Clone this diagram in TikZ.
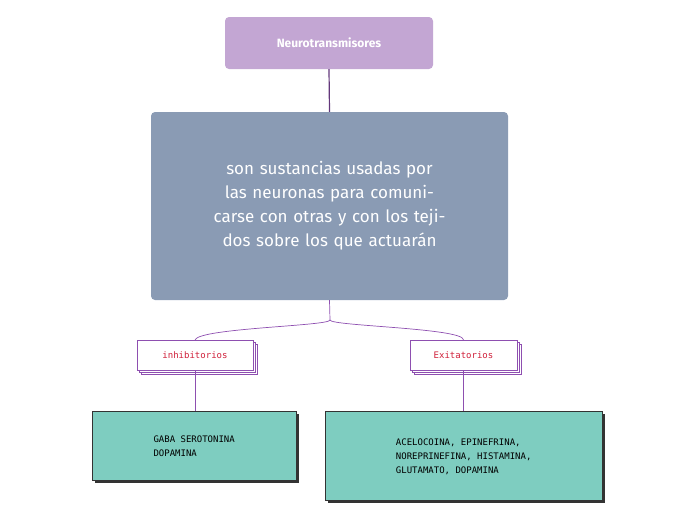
\documentclass[tikz,border=0pt]{standalone}
\usepackage{fontspec}
\usetikzlibrary{shadows}
\setmainfont{Fira Sans}
\newfontfamily\monof{DejaVu Sans Mono}
\definecolor{topc}{HTML}{C3A6D3}
\definecolor{midc}{HTML}{8A9BB4}
\definecolor{grn}{HTML}{7ECDC0}
\definecolor{lnc}{HTML}{8E4FB0}
\definecolor{redt}{HTML}{D0203A}
\begin{document}
\begin{tikzpicture}[x=1pt,y=-1pt,
 topbox/.style={fill=topc,rounded corners=4pt,text=white,font=\fontsize{12}{14}\selectfont\bfseries,minimum width=208pt,minimum height=52pt},
 midbox/.style={fill=midc,rounded corners=4pt,text=white,font=\fontsize{17}{24}\selectfont,minimum width=357pt,minimum height=188pt,align=center,text width=300pt},
 tagbox/.style={draw=lnc,fill=white,text=redt,font=\monof\fontsize{9}{11}\selectfont,minimum height=30pt,double copy shadow={shadow xshift=2pt,shadow yshift=-2pt,draw=lnc}},
 leaf/.style={draw=black!80,fill=grn,font=\monof\fontsize{9}{14}\selectfont,align=left,anchor=north west,inner sep=12pt,text depth=0pt},
 conn/.style={draw=lnc,line width=0.7pt}]
\useasboundingbox (0,0) rectangle (696,520);
\node[topbox] (t) at (329,43) {Neurotransmisores};
\node[midbox] (m) at (329.5,206) {son sustancias usadas por las neuronas para comunicarse con otras y con los tejidos sobre los que actuarán};
\draw[draw=lnc!70!black,line width=1.2pt] (t.south) -- (m.north);
\node[tagbox,minimum width=116pt] (i) at (195,355) {inhibitorios};
\node[tagbox,minimum width=107pt] (e) at (463.5,355) {Exitatorios};
\coordinate (b) at (330,320);
\draw[conn] (m.south) -- (b) .. controls (330,326) and (200,328) .. (i.north);
\draw[conn] (b) .. controls (330,326) and (463,328) .. (e.north);
\fill[black!80] (95,414) rectangle (299,483);
\fill[black!80] (328,414) rectangle (605,503);
\node[leaf,minimum width=204pt,minimum height=69pt] (g) at (92,411) {GABA SEROTONINA\\DOPAMINA};
\node[leaf,minimum width=277pt,minimum height=89pt] (x) at (325,411) {ACELOCOINA, EPINEFRINA,\\NOREPRINEFINA, HISTAMINA,\\GLUTAMATO, DOPAMINA};
\draw[conn] (i.south) -- (g.north -| i.south);
\draw[conn] (e.south) -- (x.north -| e.south);
\end{tikzpicture}
\end{document}
